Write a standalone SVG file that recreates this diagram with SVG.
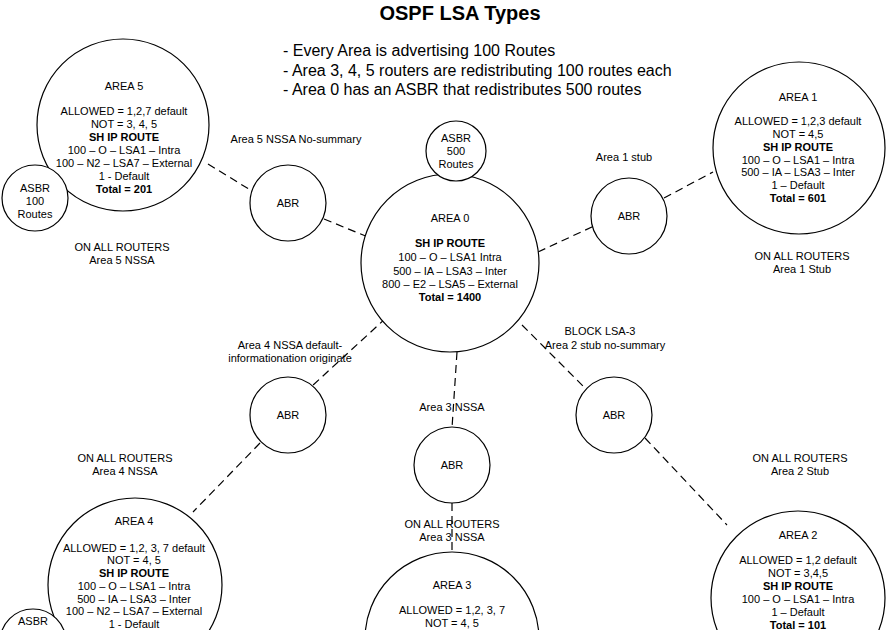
<svg xmlns="http://www.w3.org/2000/svg" width="895" height="630" viewBox="0 0 895 630">
<style>
.n{fill:#fff;stroke:#000;stroke-width:1.2}
.c{stroke:#000;stroke-width:1.2;stroke-dasharray:8 5;fill:none}
text{font-family:"Liberation Sans",Arial,sans-serif;font-size:11px;fill:#000;text-anchor:middle}
.b{font-weight:bold}
.t{font-size:20px;font-weight:bold}
.h{font-size:16px;text-anchor:start}
</style>
<rect width="895" height="630" fill="#fff"/>
<text class="t" x="460" y="20">OSPF LSA Types</text>
<text class="h" x="283" y="56">- Every Area is advertising 100 Routes</text>
<text class="h" x="283" y="76">- Area 3, 4, 5 routers are redistributing 100 routes each</text>
<text class="h" x="283" y="95">- Area 0 has an ASBR that redistributes 500 routes</text>

<g id="connectors">
<line class="c" x1="208" y1="164" x2="252" y2="191"/>
<line class="c" x1="324" y1="219" x2="368" y2="237"/>
<line class="c" x1="538" y1="252" x2="594" y2="226"/>
<line class="c" x1="664" y1="198" x2="713" y2="172"/>
<line class="c" x1="386" y1="318" x2="312" y2="386"/>
<line class="c" x1="260" y1="443" x2="193" y2="512"/>
<line class="c" x1="457" y1="352" x2="452" y2="428"/>
<line class="c" x1="452" y1="503" x2="452" y2="551"/>
<line class="c" x1="522" y1="325" x2="586" y2="389"/>
<line class="c" x1="645" y1="438" x2="727" y2="525"/>
</g>

<g id="area5">
<circle class="n" cx="123" cy="125" r="86"/>
<text x="124" y="90">AREA 5</text>
<text x="124" y="115">ALLOWED = 1,2,7 default</text>
<text x="124" y="128">NOT = 3, 4, 5</text>
<text class="b" x="124" y="141">SH IP ROUTE</text>
<text x="124" y="154">100 – O – LSA1 – Intra</text>
<text x="124" y="167">100 – N2 – LSA7 – External</text>
<text x="124" y="180">1 - Default</text>
<text class="b" x="124" y="193">Total = 201</text>
</g>
<g id="asbr5">
<circle class="n" cx="35" cy="198" r="33"/>
<text x="35" y="192">ASBR</text>
<text x="35" y="205">100</text>
<text x="35" y="218">Routes</text>
</g>
<text x="122" y="251">ON ALL ROUTERS</text>
<text x="122" y="264">Area 5 NSSA</text>
<text x="296" y="143">Area 5 NSSA No-summary</text>
<g id="abr5">
<circle class="n" cx="288" cy="203" r="38"/>
<text x="288" y="207">ABR</text>
</g>

<g id="area0">
<circle class="n" cx="450" cy="263" r="89"/>
<text x="450" y="222">AREA 0</text>
<text class="b" x="450" y="247">SH IP ROUTE</text>
<text x="450" y="261">100 – O – LSA1 Intra</text>
<text x="450" y="275">500 – IA – LSA3 – Inter</text>
<text x="450" y="288">800 – E2 – LSA5 – External</text>
<text class="b" x="450" y="301">Total = 1400</text>
</g>
<g id="asbr0">
<circle class="n" cx="456" cy="151" r="30"/>
<text x="456" y="142">ASBR</text>
<text x="456" y="155">500</text>
<text x="456" y="168">Routes</text>
</g>

<g id="area1">
<circle class="n" cx="799" cy="148" r="86"/>
<text x="798" y="101">AREA 1</text>
<text x="798" y="125">ALLOWED = 1,2,3 default</text>
<text x="798" y="138">NOT = 4,5</text>
<text class="b" x="798" y="151">SH IP ROUTE</text>
<text x="798" y="164">100 – O – LSA1 – Intra</text>
<text x="798" y="176">500 – IA – LSA3 – Inter</text>
<text x="798" y="189">1 – Default</text>
<text class="b" x="798" y="202">Total = 601</text>
</g>
<text x="802" y="260">ON ALL ROUTERS</text>
<text x="802" y="273">Area 1 Stub</text>
<text x="624" y="161">Area 1 stub</text>
<g id="abr1">
<circle class="n" cx="629" cy="216" r="38"/>
<text x="629" y="220">ABR</text>
</g>

<text x="290" y="349">Area 4 NSSA default-</text>
<text x="290" y="362">informationation originate</text>
<g id="abr4">
<circle class="n" cx="288" cy="415" r="38"/>
<text x="288" y="419">ABR</text>
</g>
<text x="125" y="462">ON ALL ROUTERS</text>
<text x="125" y="475">Area 4 NSSA</text>
<g id="area4">
<circle class="n" cx="135" cy="585" r="87"/>
<text x="134" y="525">AREA 4</text>
<text x="134" y="552">ALLOWED = 1,2, 3, 7 default</text>
<text x="134" y="564">NOT = 4, 5</text>
<text class="b" x="134" y="577">SH IP ROUTE</text>
<text x="134" y="590">100 – O – LSA1 – Intra</text>
<text x="134" y="603">500 – IA – LSA3 – Inter</text>
<text x="134" y="615">100 – N2 – LSA7 – External</text>
<text x="134" y="628">1 - Default</text>
</g>
<g id="asbr4">
<circle class="n" cx="33" cy="642" r="33"/>
<text x="33" y="625">ASBR</text>
<text x="33" y="638">100</text>
</g>

<text x="452" y="411">Area 3 NSSA</text>
<g id="abr3">
<circle class="n" cx="452" cy="465" r="38"/>
<text x="452" y="469">ABR</text>
</g>
<text x="452" y="528">ON ALL ROUTERS</text>
<text x="452" y="541">Area 3 NSSA</text>
<g id="area3">
<circle class="n" cx="452" cy="639" r="87"/>
<text x="452" y="589">AREA 3</text>
<text x="452" y="614">ALLOWED = 1,2, 3, 7</text>
<text x="452" y="627">NOT = 4, 5</text>
</g>

<text x="600" y="335">BLOCK LSA-3</text>
<text x="605" y="349">Area 2 stub no-summary</text>
<g id="abr2">
<circle class="n" cx="614" cy="415" r="38"/>
<text x="614" y="419">ABR</text>
</g>
<text x="800" y="462">ON ALL ROUTERS</text>
<text x="800" y="475">Area 2 Stub</text>
<g id="area2">
<circle class="n" cx="798" cy="598" r="87"/>
<text x="798" y="539">AREA 2</text>
<text x="798" y="564">ALLOWED = 1,2 default</text>
<text x="798" y="577">NOT = 3,4,5</text>
<text class="b" x="798" y="590">SH IP ROUTE</text>
<text x="798" y="603">100 – O – LSA1 – Intra</text>
<text x="798" y="616">1 – Default</text>
<text class="b" x="798" y="629">Total = 101</text>
</g>
</svg>
